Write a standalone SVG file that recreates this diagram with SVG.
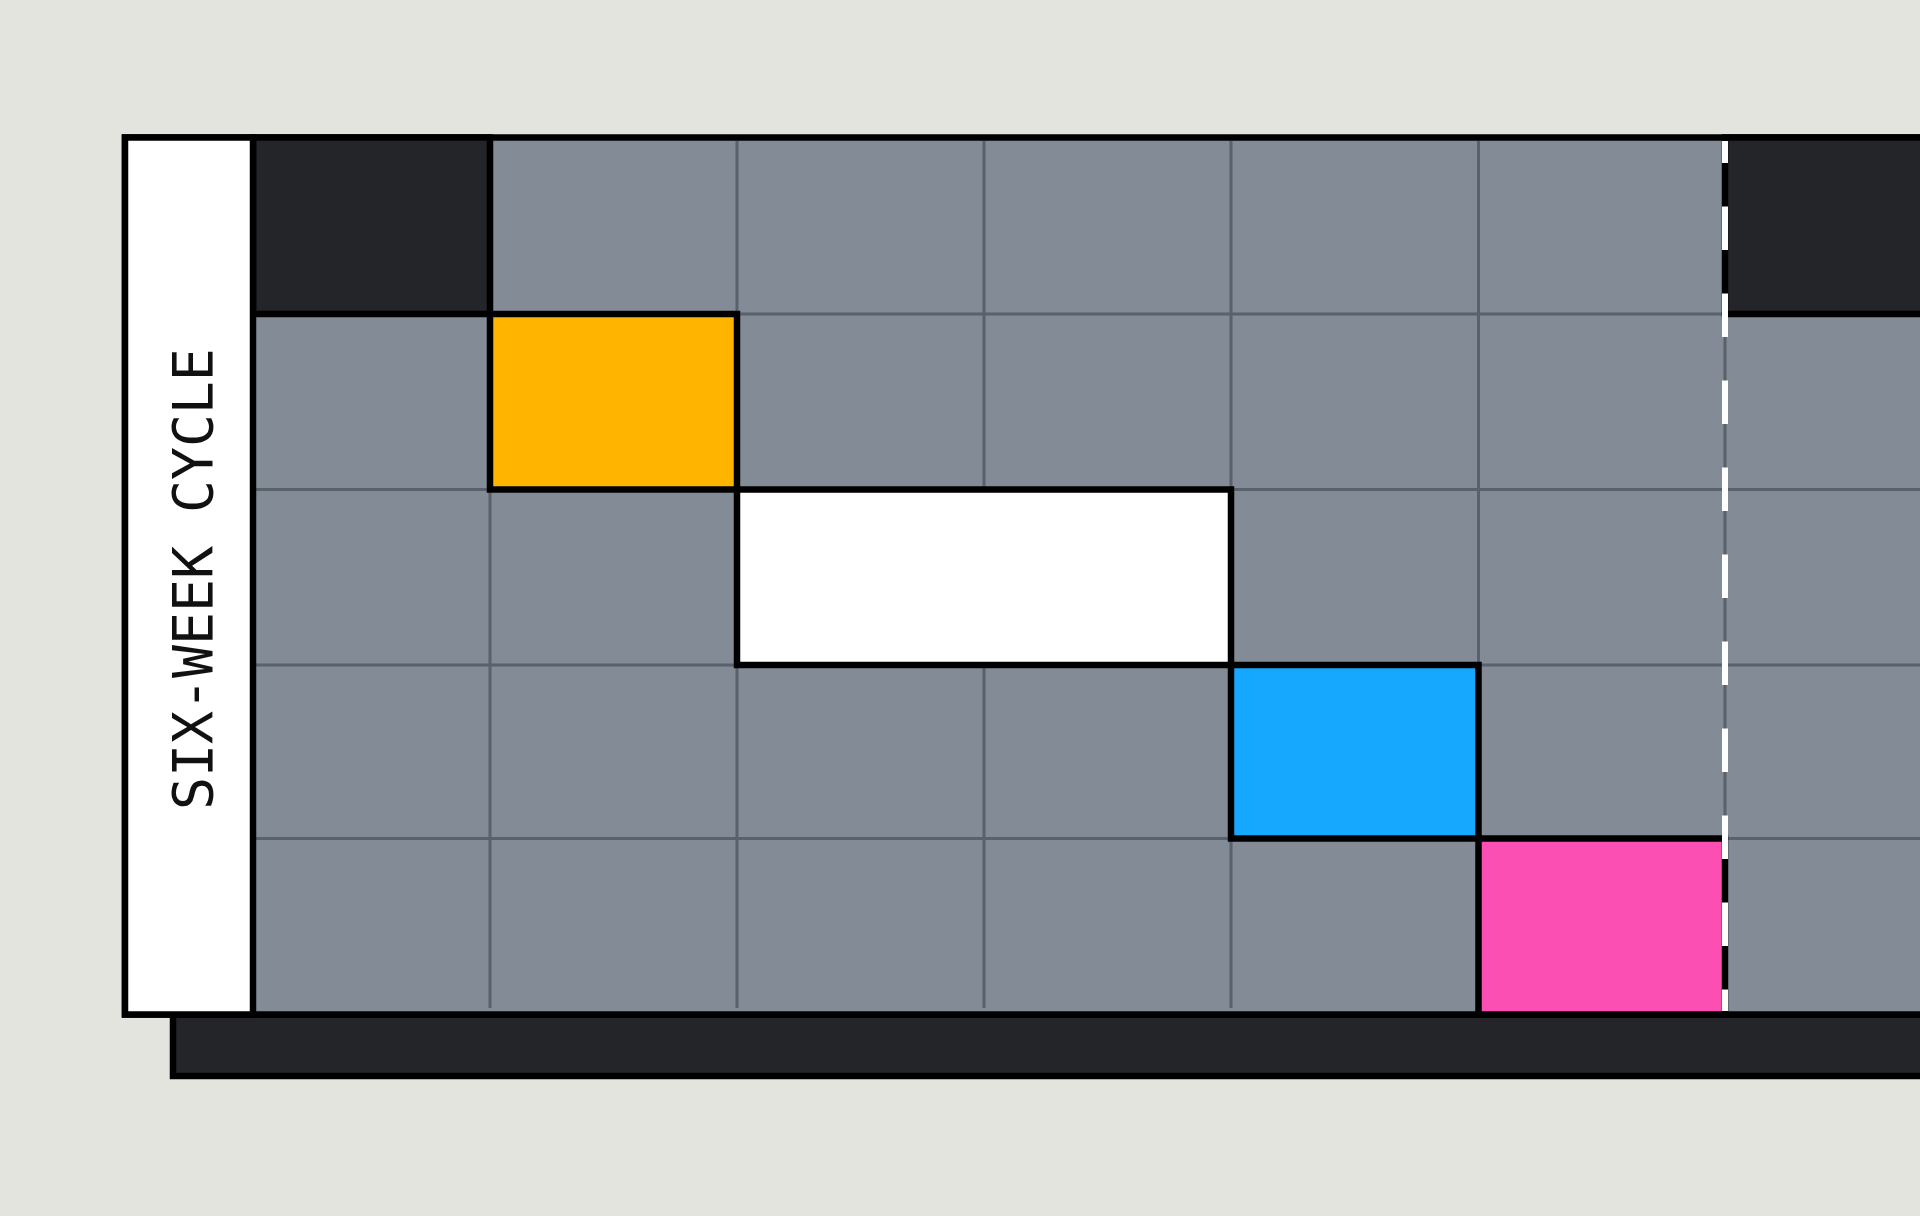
<svg xmlns="http://www.w3.org/2000/svg" width="1920" height="1216" viewBox="0 0 1920 1216">
  <style>
    .cell { stroke: #000000; stroke-width: 6.5; }
    .grid { stroke: #59616b; stroke-width: 3; fill: none; }
    .dark { fill: #242528; }
    .label { font-family: "DejaVu Sans Mono", "Liberation Mono", monospace; font-size: 55px; fill: #111111; }
  </style>
  <rect x="0" y="0" width="1920" height="1216" fill="#e3e4de"/>

  <g id="base-bar">
    <rect class="cell dark" x="173" y="1014.5" width="1800" height="61.5"/>
  </g>

  <g id="panel">
    <rect class="cell" x="125" y="137.5" width="1900" height="877" fill="#838c96"/>
  </g>

  <g id="grid">
    <line class="grid" x1="253" y1="314" x2="1920" y2="314"/>
    <line class="grid" x1="253" y1="489.5" x2="1920" y2="489.5"/>
    <line class="grid" x1="253" y1="665" x2="1920" y2="665"/>
    <line class="grid" x1="253" y1="838.5" x2="1920" y2="838.5"/>
    <line class="grid" x1="490" y1="141" x2="490" y2="1008"/>
    <line class="grid" x1="737" y1="141" x2="737" y2="1008"/>
    <line class="grid" x1="984" y1="141" x2="984" y2="1008"/>
    <line class="grid" x1="1231" y1="141" x2="1231" y2="1008"/>
    <line class="grid" x1="1478.5" y1="141" x2="1478.5" y2="1008"/>
    <line class="grid" x1="1725" y1="141" x2="1725" y2="1011"/>
  </g>

  <g id="cooldown-start">
    <rect class="cell dark" x="253" y="137.5" width="237" height="176.5"/>
  </g>
  <g id="cooldown-end">
    <rect class="cell dark" x="1725" y="137.5" width="300" height="176.5"/>
  </g>
  <g id="block-orange">
    <rect class="cell" x="490" y="314" width="247" height="175.5" fill="#ffb400"/>
  </g>
  <g id="block-white">
    <rect class="cell" x="737" y="489.5" width="494" height="175.5" fill="#ffffff"/>
  </g>
  <g id="block-blue">
    <rect class="cell" x="1231" y="665" width="247.5" height="173.5" fill="#16a7ff"/>
  </g>
  <g id="block-pink">
    <rect class="cell" x="1478.5" y="838.5" width="246.5" height="176" fill="#fb4fb4"/>
  </g>

  <g id="label-panel">
    <rect class="cell" x="125" y="137.5" width="128" height="877" fill="#ffffff"/>
    <text class="label" transform="translate(212,579) rotate(-90)" x="0" y="0" text-anchor="middle" textLength="462" lengthAdjust="spacing">SIX-WEEK CYCLE</text>
  </g>

  <g id="connectors">
    <line x1="1725" y1="141" x2="1725" y2="1011" stroke="#ffffff" stroke-width="6" stroke-dasharray="43.5 43.5" stroke-dashoffset="21.5"/>
  </g>
</svg>
